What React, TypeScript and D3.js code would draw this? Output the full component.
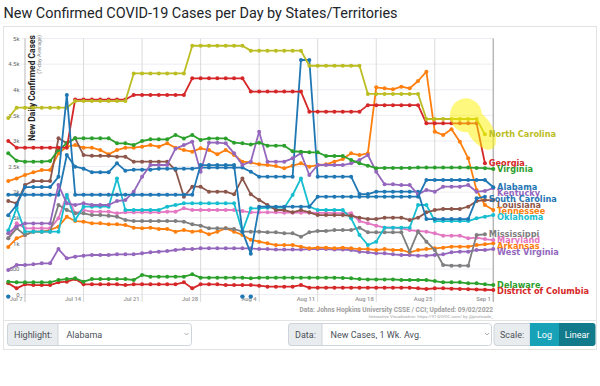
import React from "react";
import * as d3 from "d3";

// ---------- data ----------
const START_DATE = new Date(2022, 6, 5); // first daily value: Jul 5, 2022
const X_TICK_START = new Date(2022, 6, 7);
const X_TICK_END = new Date(2022, 8, 1);
const Y_TICKS = [0, 500, 1000, 1500, 2000, 2500, 3000, 3500, 4000, 4500, 5000];

const northCarolina = [3450, 3650, 3650, 3650, 3650, 3650, 3650, 3650, 3780, 3780, 3780, 3780, 3780, 3780, 3780, 4320, 4320, 4320, 4320, 4320, 4320, 4320, 4860, 4860, 4860, 4860, 4860, 4860, 4860, 4765, 4765, 4765, 4765, 4765, 4765, 4765, 4470, 4470, 4470, 4470, 4470, 4470, 4470, 3920, 3920, 3920, 3920, 3920, 3920, 3920, 3430, 3430, 3430, 3430, 3430, 3430, 3430, 3130];
const georgia = [3000, 2870, 2870, 2870, 2870, 2870, 2870, 2870, 3810, 3810, 3810, 3810, 3810, 3810, 3810, 3900, 3900, 3900, 3900, 3900, 3900, 3900, 4225, 4225, 4225, 4225, 4225, 4225, 4225, 3965, 3965, 3965, 3965, 3965, 3965, 3965, 3573, 3573, 3573, 3573, 3573, 3573, 3573, 3700, 3700, 3700, 3700, 3700, 3700, 3700, 3345, 3345, 3345, 3345, 3345, 3345, 3345, 2565];
const virginia = [2760, 2615, 2596, 2596, 2596, 2609, 2824, 2954, 3052, 3052, 3052, 3052, 3052, 2955, 2955, 2922, 3000, 3033, 3033, 3033, 3117, 3050, 3117, 3020, 3050, 3050, 3050, 2968, 2955, 2930, 2968, 2909, 2909, 2909, 2800, 2790, 2780, 2778, 2707, 2707, 2707, 2630, 2563, 2518, 2470, 2475, 2475, 2475, 2475, 2480, 2480, 2480, 2480, 2480, 2480, 2480, 2475, 2470, 2453];
const alabama = [1550, 1750, 2100, 2100, 2100, 2100, 2300, 3900, 1950, 1950, 1950, 1950, 1950, 1950, 1950, 1950, 1950, 1950, 1950, 1950, 1950, 1950, 1950, 2530, 2530, 2530, 2530, 2530, 1229, 800, 1717, 1717, 1717, 1717, 1717, 1717, 1717, 1912, 1912, 1912, 1912, 1912, 1912, 1912, 1912, 1912, 1912, 1912, 1912, 1912, 2238, 2238, 2238, 2238, 2238, 2238, 2238, 2238, 2096];
const kentucky = [1200, 1330, 1390, 1390, 1390, 1390, 2140, 1782, 1750, 1782, 1750, 1750, 1750, 1828, 1847, 2010, 2303, 2531, 2531, 2531, 2850, 2920, 2987, 2400, 2967, 2967, 2954, 2759, 2531, 2596, 3183, 2596, 2596, 2596, 2661, 2759, 2336, 2531, 2531, 2531, 2531, 2563, 2629, 2726, 2401, 2153, 2153, 2140, 2140, 1958, 2043, 2010, 2108, 2108, 2108, 2140, 2010, 2023, 2080];
const southCarolina = [1950, 1950, 1950, 1950, 1950, 1950, 1950, 2727, 2499, 2460, 2390, 2390, 2390, 2564, 2420, 2440, 2440, 2440, 2460, 2460, 2460, 2460, 2460, 2480, 2480, 2480, 2480, 2480, 2480, 2400, 2303, 2303, 2303, 2303, 2303, 4582, 4582, 2303, 2303, 2303, 2303, 2303, 1964, 1964, 2010, 2010, 2010, 2010, 2010, 2010, 1476, 1476, 1476, 1476, 1476, 1476, 1880, 1912];
const louisiana = [1828, 1782, 2140, 2218, 2218, 2218, 3052, 2955, 3052, 2726, 2710, 2710, 2710, 2694, 2694, 2596, 2596, 2596, 2596, 2596, 2433, 1912, 2108, 2108, 2010, 2010, 2010, 1958, 2270, 1958, 1850, 1750, 1652, 1652, 1606, 1652, 1606, 1554, 1554, 1554, 1554, 1540, 1502, 1476, 1476, 1502, 1502, 1502, 1457, 1502, 1606, 1652, 1672, 1672, 1672, 1717, 1828, 1847, 1847];
const tennessee = [2218, 2270, 2336, 2388, 2433, 2433, 2759, 2889, 2921, 2869, 2869, 2824, 2739, 2824, 2869, 2869, 2889, 2921, 2889, 2954, 2869, 2824, 2791, 2856, 2824, 2739, 2824, 2726, 2596, 2580, 2544, 2531, 2511, 2466, 2518, 2563, 2498, 2531, 2544, 2596, 2648, 2759, 2726, 2759, 4048, 4029, 4009, 4061, 4029, 4172, 4354, 3182, 3117, 3228, 2987, 2661, 2043, 1750, 1652];
const oklahoma = [1250, 1690, 1229, 1229, 1229, 1229, 1229, 1945, 1457, 1717, 1717, 1717, 1717, 2270, 1652, 1652, 1652, 1652, 1652, 1717, 1750, 1782, 1782, 1782, 1782, 1782, 1782, 1782, 1229, 1685, 1685, 1698, 1698, 1698, 1945, 2270, 1717, 1652, 1652, 1652, 1652, 1489, 1164, 968, 1034, 1307, 1307, 1307, 1307, 1750, 1750, 1437, 1437, 1437, 1437, 1437, 1489, 1522, 1554];
const mississippi = [1099, 1294, 1164, 1229, 1229, 1229, 1750, 1652, 1587, 1587, 1554, 1554, 1541, 1522, 1457, 1437, 1437, 1437, 1437, 1437, 1437, 1424, 1372, 1346, 1294, 1294, 1294, 1281, 1229, 1229, 1229, 1216, 1216, 1196, 1196, 1131, 1216, 1242, 1242, 1261, 1261, 1261, 1307, 1216, 1216, 1216, 1216, 1216, 838, 1229, 1034, 871, 578, 565, 565, 565, 1164, 1177];
const maryland = [1099, 1392, 1294, 1294, 1294, 1294, 1489, 1945, 1587, 1652, 1620, 1620, 1620, 1587, 1606, 1606, 1606, 1606, 1606, 1620, 1620, 1685, 1652, 1652, 1652, 1652, 1652, 1652, 1632, 1606, 1606, 1606, 1606, 1600, 1600, 1600, 1600, 1595, 1595, 1590, 1590, 1587, 1437, 1392, 1346, 1307, 1307, 1294, 1261, 1242, 1229, 1196, 1151, 1151, 1151, 1099, 1112, 1085, 1066];
const arkansas = [930, 1099, 1164, 1229, 1229, 1261, 1327, 1522, 1437, 1424, 1392, 1392, 1372, 1372, 1359, 1307, 1294, 1307, 1281, 1281, 1229, 1261, 1229, 1242, 1177, 1229, 1294, 1229, 1164, 1070, 1034, 1001, 968, 968, 968, 936, 903, 916, 916, 903, 916, 903, 890, 890, 871, 890, 871, 871, 825, 871, 890, 903, 916, 936, 936, 936, 968, 981, 1001];
const westVirginia = [480, 578, 578, 591, 611, 611, 890, 708, 741, 760, 773, 773, 773, 786, 786, 786, 806, 825, 838, 851, 871, 890, 890, 903, 903, 903, 903, 903, 903, 903, 890, 890, 880, 880, 880, 880, 890, 890, 890, 880, 880, 871, 838, 825, 806, 806, 786, 773, 773, 760, 760, 773, 786, 825, 838, 838, 871, 871, 890];
const delaware = [252, 239, 239, 239, 239, 239, 285, 304, 317, 252, 304, 304, 304, 304, 304, 285, 383, 350, 350, 350, 350, 350, 396, 330, 330, 330, 330, 330, 330, 317, 330, 330, 330, 330, 330, 330, 330, 330, 330, 330, 325, 317, 304, 297, 297, 297, 297, 285, 285, 285, 285, 265, 239, 239, 239, 220, 220, 200, 187];
const districtOfColumbia = [220, 122, 200, 187, 187, 187, 239, 252, 304, 200, 200, 200, 200, 200, 187, 200, 200, 200, 200, 200, 200, 239, 122, 200, 200, 200, 187, 187, 187, 187, 174, 155, 155, 155, 155, 187, 135, 135, 135, 135, 135, 135, 135, 135, 135, 135, 135, 135, 135, 122, 109, 122, 122, 115, 110, 105, 100, 95, 90];
// isolated zero-value reports (day index)
const zeroReportDays = [0, 28, 29];

const SERIES = [
  { name: "District of Columbia", color: "#d62728", values: districtOfColumbia },
  { name: "Delaware", color: "#2ca02c", values: delaware },
  { name: "West Virginia", color: "#9467bd", values: westVirginia },
  { name: "Arkansas", color: "#ff7f0e", values: arkansas },
  { name: "Maryland", color: "#e377c2", values: maryland },
  { name: "Mississippi", color: "#7f7f7f", values: mississippi },
  { name: "Oklahoma", color: "#17becf", values: oklahoma },
  { name: "Tennessee", color: "#ff7f0e", values: tennessee },
  { name: "Louisiana", color: "#8c564b", values: louisiana },
  { name: "South Carolina", color: "#1f77b4", values: southCarolina },
  { name: "Kentucky", color: "#9467bd", values: kentucky },
  { name: "Virginia", color: "#2ca02c", values: virginia },
  { name: "Georgia", color: "#d62728", values: georgia },
  { name: "North Carolina", color: "#bcbd22", values: northCarolina },
  { name: "Alabama", color: "#1f77b4", values: alabama },
];

const TITLE = "New Confirmed COVID-19 Cases per Day by States/Territories";
const SOURCE = "Data: Johns Hopkins University CSSE / CCI; Updated: 09/02/2022";
const CREDIT = "Interactive Visualization: https://91-DIVOC.com/ by @profwade_";

export default function App() {
  const W = 600, H = 386;
  const x = d3.scaleTime().domain([X_TICK_START, X_TICK_END]).range([25, 493.3]);
  const y = d3.scaleLinear().domain([0, 5000]).range([294.6, 38.6]);
  const dateAt = (i: number) => d3.timeDay.offset(START_DATE, i);
  const line = d3.line<number>().x((_, i) => x(dateAt(i))).y((v) => y(v));
  const xTicks = d3.timeDay.range(X_TICK_START, d3.timeDay.offset(X_TICK_END, 1), 7);
  const fmtDate = d3.timeFormat("%b %-d");
  const fmtY = (v: number) => (v >= 1000 ? `${v / 1000}k` : `${v}`);

  // labels with simple collision avoidance
  const ends = SERIES.map((s) => {
    const n = s.values.length - 1;
    return { s, x: x(dateAt(n)), y: y(s.values[n]), ly: y(s.values[n]) };
  }).sort((a, b) => a.y - b.y);
  for (let i = 1; i < ends.length; i++) {
    if (ends[i].ly < ends[i - 1].ly + 5.9) ends[i].ly = ends[i - 1].ly + 5.9;
  }

  const nc = SERIES.find((s) => s.name === "North Carolina")!.values;
  const gx = x(dateAt(nc.length - 1));
  const gy = y(nc[nc.length - 1]);

  const right = x(X_TICK_END);
  const font = "Roboto, 'Liberation Sans', sans-serif";

  return (
    <svg width={W} height={H} style={{ position: "absolute", left: 0, top: 0, background: "#fff" }} fontFamily={font}>
      <text x={3.5} y={17.5} fontSize={15} fill="#212529" textLength={394} lengthAdjust="spacingAndGlyphs">{TITLE}</text>
      {/* frame */}
      <rect x={3.5} y={26.5} width={593} height={323} fill="#fff" stroke="#e3e3e3" />
      <line x1={3.5} x2={596.5} y1={320.5} y2={320.5} stroke="#e3e3e3" />

      {/* gridlines */}
      {Y_TICKS.map((t) => (
        <g key={t}>
          <line x1={21} x2={right} y1={y(t)} y2={y(t)} stroke="#ececf3" />
          <text x={19.5} y={y(t)} dy="0.35em" textAnchor="end" fontSize={6} fill="#666">{fmtY(t)}</text>
        </g>
      ))}
      {xTicks.map((d, i) => (
        <g key={i}>
          <line x1={x(d)} x2={x(d)} y1={y(5000)} y2={302} stroke={i === 0 || i === xTicks.length - 1 ? "#b8b8b8" : "#dadada"} strokeWidth={i === xTicks.length - 1 ? 1.5 : 1} />
          <text x={x(d) - 2.5} y={301} textAnchor="end" fontSize={5.8} fontWeight={600} fill="#9a9a9a">{fmtDate(d)}</text>
        </g>
      ))}

      {/* axis title */}
      <text transform={`translate(35,35) rotate(-90)`} textAnchor="end" fontSize={8.5} fontWeight={700} fill="#222">New Daily Confirmed Cases</text>
      <text transform={`translate(41,35) rotate(-90)`} textAnchor="end" fontSize={5.6} fill="#888">(7-day Average)</text>

      {/* series */}
      {SERIES.map((s) => (
        <g key={s.name}>
          <path d={line(s.values) || ""} fill="none" stroke={s.color} strokeWidth={1.8} strokeLinejoin="round" />
          {s.values.map((v, i) => (
            <circle key={i} cx={x(dateAt(i))} cy={y(v)} r={2} fill={s.color} />
          ))}
        </g>
      ))}
      {zeroReportDays.map((d) => (
        <circle key={d} cx={x(dateAt(d))} cy={y(0) + 2} r={2.2} fill="#1f77b4" />
      ))}

      {/* hover glow */}
      <g opacity={0.5}>
        <ellipse cx={gx - 19} cy={gy - 19} rx={16} ry={17} fill="#fff200" />
        <ellipse cx={gx - 5} cy={gy - 5} rx={12} ry={23} fill="#fff200" transform={`rotate(-33 ${gx - 5} ${gy - 5})`} />
      </g>

      {/* end labels */}
      {ends.map((e) => (
        <text key={e.s.name} x={e.x + 3.8} y={e.ly} dy="0.35em" fontSize={8.2} fontWeight={700} fill={e.s.color} fontFamily="'DejaVu Sans', Lato, sans-serif">{e.s.name}</text>
      ))}

      {/* footnotes */}
      <text x={493} y={312} textAnchor="end" fontSize={6.6} fontWeight={700} fill="#a0a0a0">{SOURCE}</text>
      <text x={493} y={317.5} textAnchor="end" fontSize={4.4} fill="#a0a0a0">{CREDIT}</text>

      {/* controls */}
      <g fontSize={9} fill="#495057">
        <rect x={7.5} y={323.5} width={184} height={22} rx={3} fill="#fff" stroke="#ced4da" />
        <path d="M 10.5 323.5 H 58 V 345.5 H 10.5 A 3 3 0 0 1 7.5 342.5 V 326.5 A 3 3 0 0 1 10.5 323.5 Z" fill="#e9ecef" stroke="#ced4da" />
        <text x={14} y={337.5}>Highlight:</text>
        <text x={66.5} y={337.5}>Alabama</text>
        <path d="M 184.5 333 L 186.5 335 L 188.5 333" fill="none" stroke="#999" strokeWidth={0.8} />

        <rect x={288.5} y={323.5} width={203} height={22} rx={3} fill="#fff" stroke="#ced4da" />
        <path d="M 291.5 323.5 H 322 V 345.5 H 291.5 A 3 3 0 0 1 288.5 342.5 V 326.5 A 3 3 0 0 1 291.5 323.5 Z" fill="#e9ecef" stroke="#ced4da" />
        <text x={295} y={337.5}>Data:</text>
        <text x={330.5} y={337.5}>New Cases, 1 Wk. Avg.</text>
        <path d="M 485 333 L 487 335 L 489 333" fill="none" stroke="#999" strokeWidth={0.8} />

        <path d="M 497 323.5 H 530 V 345.5 H 497 A 3 3 0 0 1 494 342.5 V 326.5 A 3 3 0 0 1 497 323.5 Z" fill="#e9ecef" stroke="#ced4da" />
        <text x={500} y={337.5}>Scale:</text>
        <rect x={530} y={323} width={29} height={23} fill="#17a2b8" />
        <text x={544.5} y={337.5} textAnchor="middle" fill="#fff">Log</text>
        <path d="M 559 323 H 592.5 A 3 3 0 0 1 595.5 326 V 343 A 3 3 0 0 1 592.5 346 H 559 Z" fill="#117a8b" />
        <text x={577} y={337.5} textAnchor="middle" fill="#fff">Linear</text>
      </g>
    </svg>
  );
}
